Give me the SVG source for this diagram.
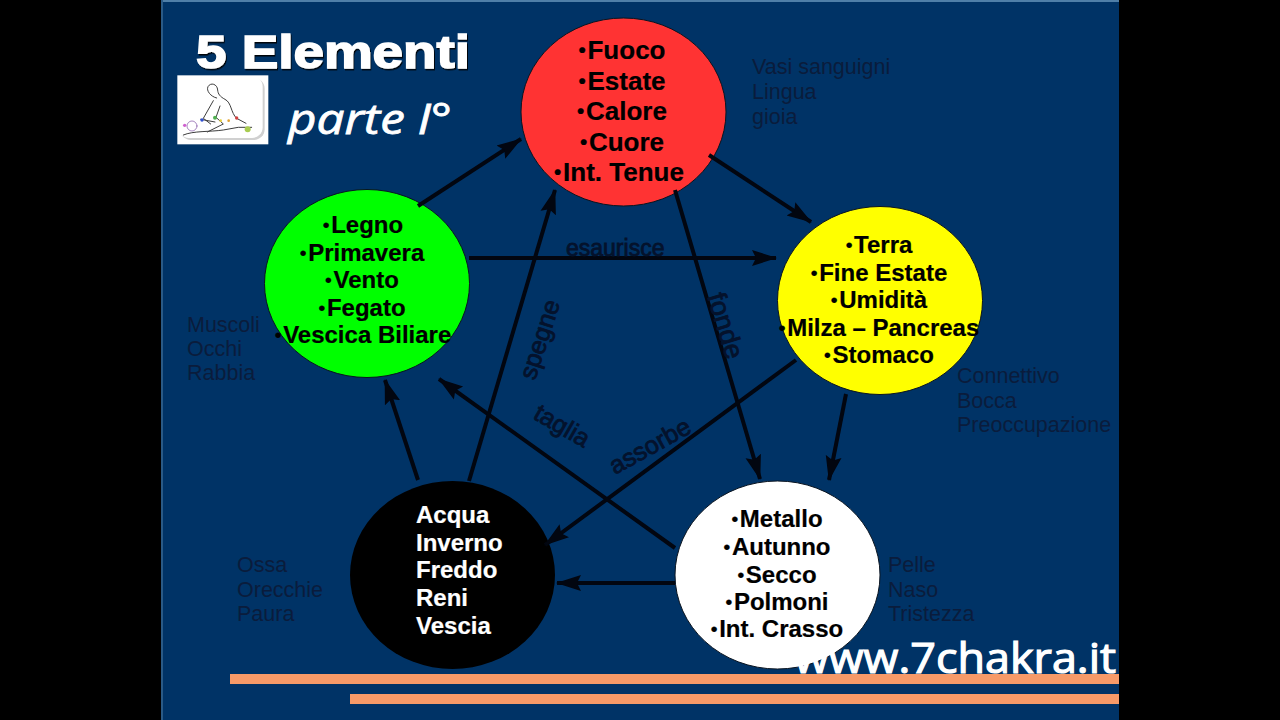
<svg xmlns="http://www.w3.org/2000/svg" width="1280" height="720" viewBox="0 0 1280 720">
<style>
text{font-family:"Liberation Sans",Arial,sans-serif}
.n{font-size:24px;font-weight:bold;text-anchor:middle;fill:#000;stroke:#000;stroke-width:.2px}
.f{font-size:26px}
.w{fill:#fff;stroke:#fff;text-anchor:start}
.b{font-size:.8em;baseline-shift:.1em;letter-spacing:1.700px}
.s{font-size:21.500px;fill:#0a1c3c}
.l{font-size:25px;fill:#04122c;stroke:#04122c;stroke-width:.8px}
.c{stroke:#020610;stroke-width:4px;fill:none;marker-end:url(#a)}
.o{stroke:#0a1420;stroke-width:1px}
.p{fill:none;stroke:#3c3c3c;stroke-width:3px;stroke-linecap:round}
</style>
<defs>
<marker id="a" markerUnits="userSpaceOnUse" markerWidth="26" markerHeight="18" refX="24" refY="9" orient="auto"><path d="M0 1L25 9L0 17L4 9Z" fill="#020610"/></marker>
<filter id="sh" x="-5%" y="-10%" width="110%" height="130%"><feDropShadow dx="1" dy="1.500" stdDeviation=".6" flood-color="#000" flood-opacity=".9"/></filter>
</defs>
<rect width="1280" height="720" fill="#000"/>
<rect x="161" y="0" width="958" height="720" fill="#003366"/>
<rect x="161" y="0" width="958" height="2" fill="#4f7fa8"/>
<rect x="161" y="0" width="2" height="720" fill="#2a5a86"/>
<g id="bars"><rect x="230" y="674" width="889" height="10" fill="#f79a68"/><rect x="350" y="694" width="769" height="10" fill="#f79a68"/></g>
<g id="fuoco"><ellipse class="o" cx="623.500" cy="112" rx="102.500" ry="94" fill="#ff3333"/>
<text class="n f" x="622" y="59"><tspan class="b">•</tspan>Fuoco</text><text class="n f" x="622" y="90"><tspan class="b">•</tspan>Estate</text><text class="n f" x="622" y="120"><tspan class="b">•</tspan>Calore</text><text class="n f" x="622" y="151"><tspan class="b">•</tspan>Cuore</text><text class="n f" x="619" y="181"><tspan class="b">•</tspan>Int. Tenue</text></g>
<g id="terra"><ellipse class="o" cx="880" cy="300.500" rx="102.500" ry="94" fill="#ffff00"/>
<text class="n" x="879" y="253"><tspan class="b">•</tspan>Terra</text><text class="n" x="879" y="281"><tspan class="b">•</tspan>Fine Estate</text><text class="n" x="879" y="308"><tspan class="b">•</tspan>Umidità</text><text class="n" x="879" y="336"><tspan class="b">•</tspan>Milza – Pancreas</text><text class="n" x="879" y="363"><tspan class="b">•</tspan>Stomaco</text></g>
<g id="metallo"><ellipse class="o" cx="777.500" cy="575" rx="102.500" ry="94" fill="#fff"/>
<text class="n" x="777" y="527"><tspan class="b">•</tspan>Metallo</text><text class="n" x="777" y="555"><tspan class="b">•</tspan>Autunno</text><text class="n" x="777" y="583"><tspan class="b">•</tspan>Secco</text><text class="n" x="777" y="610"><tspan class="b">•</tspan>Polmoni</text><text class="n" x="777" y="637"><tspan class="b">•</tspan>Int. Crasso</text></g>
<g id="acqua"><ellipse cx="452.500" cy="575" rx="102.500" ry="94" fill="#000"/>
<text class="n w" x="416" y="523">Acqua</text><text class="n w" x="416" y="551">Inverno</text><text class="n w" x="416" y="578">Freddo</text><text class="n w" x="416" y="606">Reni</text><text class="n w" x="416" y="634">Vescia</text></g>
<g id="legno"><ellipse class="o" cx="367" cy="283.500" rx="102.500" ry="94" fill="#00ff00"/>
<text class="n" x="363" y="233"><tspan class="b">•</tspan>Legno</text><text class="n" x="362" y="261"><tspan class="b">•</tspan>Primavera</text><text class="n" x="362" y="288"><tspan class="b">•</tspan>Vento</text><text class="n" x="362" y="316"><tspan class="b">•</tspan>Fegato</text><text class="n" x="363" y="343"><tspan class="b">•</tspan>Vescica Biliare</text></g>
<g id="connectors">
<path class="c" d="M418 206L521 139"/>
<path class="c" d="M709 155L811 222"/>
<path class="c" d="M846 394L829 480"/>
<path class="c" d="M675 583L557 583"/>
<path class="c" d="M418 480L385 380"/>
<path class="c" d="M469 258L776 258"/>
<path class="c" d="M675 190L760 479"/>
<path class="c" d="M796 360L545 545"/>
<path class="c" d="M675 548L439 379"/>
<path class="c" d="M469 481L555 190"/>
<text class="l" x="566" y="256" style="font-size:23px">esaurisce</text>
<text class="l" style="font-size:27px" transform="translate(707 296) rotate(73)">fonde</text>
<text class="l" transform="translate(615 475) rotate(-29)">assorbe</text>
<text class="l" transform="translate(532 418) rotate(30)">taglia</text>
<text class="l" transform="translate(535 381) rotate(-72)">spegne</text>
</g>
<g id="notes">
<text class="s" x="752" y="74">Vasi sanguigni</text><text class="s" x="752" y="99">Lingua</text><text class="s" x="752" y="124">gioia</text>
<text class="s" x="957" y="383">Connettivo</text><text class="s" x="957" y="408">Bocca</text><text class="s" x="957" y="432">Preoccupazione</text>
<text class="s" x="888" y="572">Pelle</text><text class="s" x="888" y="597">Naso</text><text class="s" x="888" y="621">Tristezza</text>
<text class="s" x="237" y="572">Ossa</text><text class="s" x="237" y="597">Orecchie</text><text class="s" x="237" y="621">Paura</text>
<text class="s" x="187" y="332">Muscoli</text><text class="s" x="187" y="356">Occhi</text><text class="s" x="187" y="380">Rabbia</text>
</g>
<g id="title">
<text x="196" y="68" font-size="46" font-weight="bold" fill="#fff" stroke="#fff" stroke-width="1.500" filter="url(#sh)" textLength="274" lengthAdjust="spacingAndGlyphs">5 Elementi</text>
<text x="288" y="134" font-size="42" font-style="italic" fill="#fff" stroke="#fff" stroke-width=".8" style="font-family:'Open Sans',sans-serif" textLength="164" lengthAdjust="spacingAndGlyphs">parte I°</text>
</g>
<g id="logo" transform="translate(170 70) scale(.3333)">
<rect x="22" y="16" width="273" height="207" fill="#fff"/>
<rect x="30" y="24" width="254" height="186" rx="32" fill="#d0d0d0"/>
<rect x="24" y="18" width="254" height="186" rx="32" fill="#fff"/>
<path class="p" d="M140 84C122 80 108 62 114 50C122 36 142 42 143 60C144 72 150 80 165 88C185 98 182 128 200 145L228 160"/>
<path class="p" d="M130 92L100 145L122 162M150 108L138 142L160 162L112 186M92 148L135 156M40 195C70 182 120 186 160 180L205 172L245 172"/>
<circle class="p" cx="66" cy="168" r="15" style="stroke:#7a4aa0;stroke-width:2px"/>
<circle cx="44" cy="166" r="5" fill="#d060d0"/><circle cx="96" cy="150" r="5" fill="#3050d0"/><circle cx="135" cy="143" r="6" fill="#50b050"/><circle cx="152" cy="152" r="4" fill="#e8d040"/><circle cx="176" cy="152" r="4" fill="#e0a030"/><circle cx="200" cy="144" r="5" fill="#d04040"/><circle cx="233" cy="178" r="9" fill="#a8cc50"/>
</g>
<text id="url" x="794" y="673" font-size="42" fill="#fff" stroke="#fff" stroke-width="1.200" style="font-family:'Open Sans',sans-serif" textLength="322" lengthAdjust="spacingAndGlyphs">www.7chakra.it</text>
</svg>
